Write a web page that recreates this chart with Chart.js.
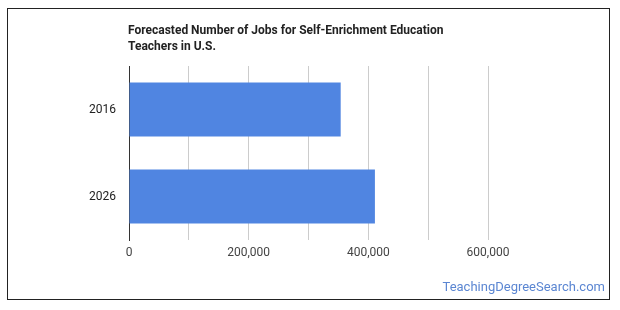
<!DOCTYPE html>
<html>
<head>
<meta charset="utf-8">
<script src="https://cdn.jsdelivr.net/npm/chart.js@4"></script>
<style>
  body { margin: 0; background: #fff; font-family: Roboto, sans-serif; }
  #wrap { position: relative; width: 620px; height: 310px; }
  #frame { position: absolute; left: 7px; top: 8px; width: 601px; height: 290px; border: 1px solid #222; }
  #title { position: absolute; left: 128px; top: 22px; font: bold 12px Roboto, sans-serif; line-height: 16px; color: #222; }
  #source { position: absolute; right: 15px; top: 279px; font: 13px Roboto, sans-serif; line-height: 16px; color: #5b86d2; }
  canvas { position: absolute; left: 0; top: 0; }
</style>
</head>
<body>
<div id="wrap">
  <div id="frame"></div>
  <canvas id="jobsChart" width="620" height="310"></canvas>
  <div id="title">Forecasted Number of Jobs for Self-Enrichment Education<br>Teachers in U.S.</div>
  <div id="source">TeachingDegreeSearch.com</div>
</div>
<script>
const years = ['2016', '2026'];
const jobs = [353800, 411000];
const xTicks = [0, 200000, 400000, 600000];

const jobsChart = new Chart(document.getElementById('jobsChart'), {
  type: 'bar',
  data: {
    labels: years,
    datasets: [{
      label: 'Jobs',
      data: jobs,
      backgroundColor: '#5085e1',
      barPercentage: 1,
      categoryPercentage: 0.62
    }]
  },
  options: {
    indexAxis: 'y',
    responsive: false,
    animation: false,
    layout: { padding: { top: 66, right: 132, left: 0, bottom: 0 } },
    plugins: { legend: { display: false }, tooltip: { enabled: false } },
    scales: {
      x: {
        min: 0,
        max: 600000,
        afterFit: (s) => { s.height = 70; },
        border: { display: false },
        grid: {
          drawTicks: false,
          color: (ctx) => ctx.tick && ctx.tick.value === 0 ? '#333' : '#ccc'
        },
        ticks: {
          stepSize: 100000,
          autoSkip: false,
          maxRotation: 0,
          padding: 6,
          color: '#444',
          font: { family: 'Roboto', size: 12 },
          callback: (v) => xTicks.includes(v) ? v.toLocaleString('en-US') : ''
        }
      },
      y: {
        afterFit: (s) => { s.width = 129; },
        border: { display: true, color: '#333' },
        grid: { display: false, drawTicks: false },
        ticks: {
          padding: 13,
          color: '#222',
          font: { family: 'Roboto', size: 12 }
        }
      }
    }
  }
});
</script>
</body>
</html>
